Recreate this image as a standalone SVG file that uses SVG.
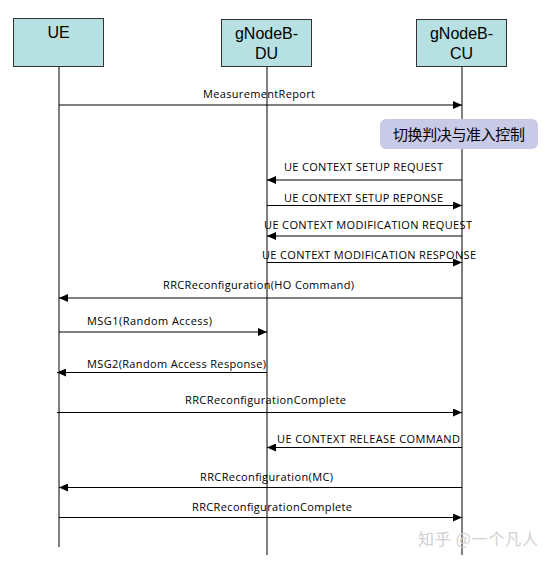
<svg xmlns="http://www.w3.org/2000/svg" width="553" height="563" viewBox="0 0 553 563">
<style>
.box{fill:#b7e0e2;stroke:#333;stroke-width:1}
.hdr{font-family:"Liberation Sans",Arial,sans-serif;font-size:16px;fill:#000;text-anchor:middle}
.life{stroke:#000;stroke-width:1}
.msg{stroke:#000;stroke-width:1;fill:none}
.lbl{font-family:"Open Sans","Noto Sans",sans-serif;font-size:11px;fill:#000;text-anchor:middle}
.note{fill:#c8cae8}
.notet{font-family:"Noto Sans CJK SC",sans-serif;font-size:15px;fill:#000;text-anchor:middle}
.wm{font-family:"Noto Sans CJK SC",sans-serif;font-size:16px;fill:#d0d0d0}
</style>
<defs>
<marker id="ah" markerUnits="userSpaceOnUse" markerWidth="10" markerHeight="8" refX="9" refY="4" orient="auto">
<path d="M0,0 L9,4 L0,8 Z" fill="#000"/>
</marker>
</defs>
<rect width="553" height="563" fill="#fff"/>
<g id="UE">
<rect class="box" x="13.5" y="18.5" width="90" height="48"/>
<text class="hdr" x="58.5" y="38">UE</text>
<line class="life" x1="59" y1="67" x2="59" y2="547"/>
</g>
<g id="DU">
<rect class="box" x="221.5" y="19.5" width="90" height="47"/>
<text class="hdr" x="266.5" y="39">gNodeB-</text>
<text class="hdr" x="266.5" y="59">DU</text>
<line class="life" x1="267" y1="67" x2="267" y2="555"/>
</g>
<g id="CU">
<rect class="box" x="416.5" y="19.5" width="90" height="47"/>
<text class="hdr" x="461.5" y="39">gNodeB-</text>
<text class="hdr" x="461.5" y="59">CU</text>
<line class="life" x1="462" y1="67" x2="462" y2="555"/>
</g>
<g id="decision">
<rect class="note" x="380" y="119" width="158" height="30" rx="6"/>
<text class="notet" x="459" y="139.5" textLength="132">切换判决与准入控制</text>
</g>
<g id="connectors">
<line class="msg" x1="59" y1="105" x2="462" y2="105" marker-end="url(#ah)"/>
<text class="lbl" x="259" y="98" textLength="112">MeasurementReport</text>
<line class="msg" x1="462" y1="180" x2="267" y2="180" marker-end="url(#ah)"/>
<text class="lbl" x="363.5" y="171" textLength="159">UE CONTEXT SETUP REQUEST</text>
<line class="msg" x1="267" y1="205.5" x2="462" y2="205.5" marker-end="url(#ah)"/>
<text class="lbl" x="363.5" y="202" textLength="159">UE CONTEXT SETUP REPONSE</text>
<line class="msg" x1="462" y1="236" x2="267" y2="236" marker-end="url(#ah)"/>
<text class="lbl" x="368" y="229" textLength="208">UE CONTEXT MODIFICATION REQUEST</text>
<line class="msg" x1="267" y1="262.5" x2="462" y2="262.5" marker-end="url(#ah)"/>
<text class="lbl" x="369" y="259" textLength="214">UE CONTEXT MODIFICATION RESPONSE</text>
<line class="msg" x1="462" y1="298" x2="59" y2="298" marker-end="url(#ah)"/>
<text class="lbl" x="258.5" y="289" textLength="191">RRCReconfiguration(HO Command)</text>
<line class="msg" x1="59" y1="332" x2="267" y2="332" marker-end="url(#ah)"/>
<text class="lbl" x="149.5" y="325" textLength="125">MSG1(Random Access)</text>
<line class="msg" x1="267" y1="372.5" x2="57" y2="372.5" marker-end="url(#ah)"/>
<text class="lbl" x="176.5" y="368" textLength="179">MSG2(Random Access Response)</text>
<line class="msg" x1="57" y1="412.5" x2="462" y2="412.5" marker-end="url(#ah)"/>
<text class="lbl" x="265.5" y="404" textLength="161">RRCReconfigurationComplete</text>
<line class="msg" x1="462" y1="447.5" x2="267" y2="447.5" marker-end="url(#ah)"/>
<text class="lbl" x="368.5" y="443" textLength="183">UE CONTEXT RELEASE COMMAND</text>
<line class="msg" x1="462" y1="487.5" x2="59" y2="487.5" marker-end="url(#ah)"/>
<text class="lbl" x="266.5" y="481" textLength="133">RRCReconfiguration(MC)</text>
<line class="msg" x1="59" y1="517.5" x2="462" y2="517.5" marker-end="url(#ah)"/>
<text class="lbl" x="272" y="511" textLength="160">RRCReconfigurationComplete</text>
</g>
<text class="wm" x="418" y="545" textLength="120">知乎 @一个凡人</text>
</svg>
